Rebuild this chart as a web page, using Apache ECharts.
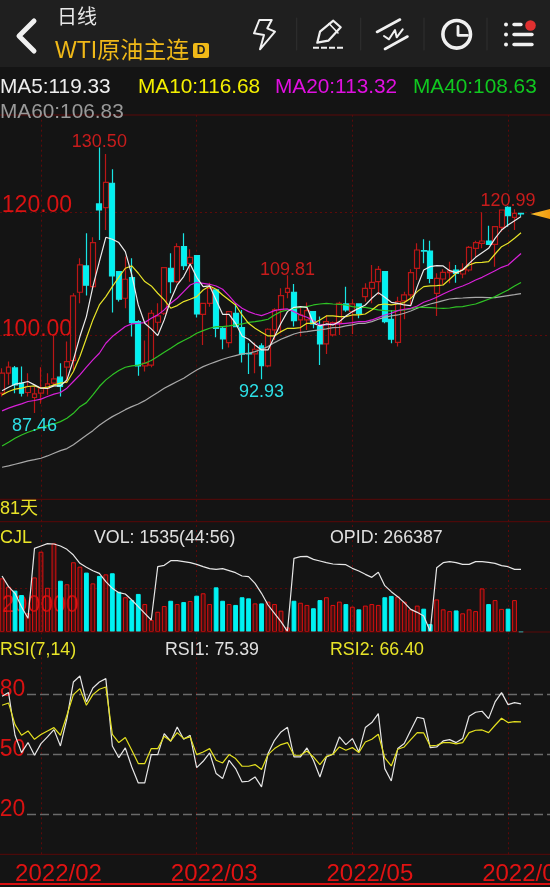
<!DOCTYPE html>
<html><head><meta charset="utf-8">
<style>html,body{margin:0;padding:0;background:#141414;}#c{width:550px;height:887px;}</style>
<script src="https://cdn.jsdelivr.net/npm/echarts@6/dist/echarts.min.js"></script>
</head><body><div id="c"></div>
<script>
// WTI continuous contract, daily bars (81 sessions) with moving averages, volume, open interest and RSI.
const opens=[90.68,93.92,94.78,92.3,90.79,89.98,90.68,91.49,92.3,93.27,94.89,95.97,107.04,111.31,107.96,121.35,120.76,124.7,110.39,106.07,109.42,102.29,95.11,95.22,102.18,103.64,110.93,108.77,114.43,111.73,112.97,103.47,105.25,107.41,101.2,98.88,103.63,101.31,97.15,97.04,98.34,95.1,100.93,104.17,107.03,107.03,102.55,102.55,103.9,101.47,98.66,100.12,102.12,105.14,103.9,105.14,106.33,107.68,108.76,110.38,102.66,98.93,105.63,106.6,110.92,113.78,113.73,106.87,109.19,110.22,110.65,110.0,110.65,114.16,114.97,115.35,114.81,117.56,120.8,119.18,119.83];
const highs=[94.73,95.81,95.1,95.0,93.92,91.76,94.89,93.92,100.13,95.54,99.05,106.88,112.55,116.6,115.95,130.5,129.45,126.97,110.39,112.82,112.55,102.56,99.21,104.18,105.26,111.04,113.36,114.98,116.59,114.0,112.97,105.25,108.6,107.41,101.58,103.9,105.25,104.17,98.77,98.88,98.77,101.2,104.44,107.68,109.81,108.38,104.71,105.36,103.9,103.09,103.36,102.28,105.52,107.95,105.9,105.14,108.49,111.46,111.3,110.38,104.17,106.33,107.14,110.76,114.97,115.62,115.4,110.11,110.76,112.0,111.46,111.73,114.54,115.4,120.0,117.83,117.67,120.37,120.99,120.48,119.94];
const lows=[90.14,92.03,90.68,90.14,90.14,87.46,88.95,90.41,91.76,90.14,92.3,94.46,105.26,106.5,107.69,115.52,117.14,103.75,105.53,104.45,99.86,93.49,94.19,94.89,100.67,103.37,106.88,108.5,110.65,108.76,102.93,98.5,104.71,99.74,97.8,98.07,101.36,95.64,93.8,93.91,92.93,94.88,99.31,100.39,106.06,101.47,99.85,100.93,101.2,95.26,97.04,99.85,100.12,103.9,100.28,102.82,105.52,105.25,106.6,102.01,98.77,98.23,102.66,104.98,109.03,111.73,108.49,103.2,108.22,108.49,108.6,109.3,110.38,112.81,114.16,114.7,111.19,116.86,117.67,117.13,119.4];
const closes=[93.92,94.89,92.03,90.68,91.76,90.57,91.49,92.19,93.0,91.76,95.81,106.45,111.47,108.18,115.09,120.38,124.86,109.69,105.91,109.15,102.13,95.11,95.54,103.64,103.21,111.04,108.77,114.44,111.35,112.7,103.52,105.25,107.68,101.2,99.47,103.9,101.47,97.0,97.04,97.8,95.15,101.04,104.17,106.49,107.68,102.44,103.36,104.06,101.9,98.66,102.28,102.12,105.25,104.17,105.14,103.63,107.68,108.65,110.76,102.28,99.42,105.52,106.6,110.22,113.89,113.72,109.3,109.3,110.27,110.49,110.11,110.76,114.32,115.08,115.35,114.81,117.67,120.37,119.45,119.83,119.72];

const ma5=[91.06,91.65,92.14,92.3,92.57,92.03,91.49,91.44,91.87,91.87,92.84,96.08,99.86,103.1,107.96,112.01,115.95,115.63,115.09,113.63,109.85,104.99,102.02,101.1,100.02,102.56,105.8,108.23,109.58,111.62,109.46,107.95,108.06,105.79,103.47,103.47,102.01,99.96,99.42,98.5,97.69,97.69,99.85,102.01,103.9,104.6,104.71,104.6,102.01,101.58,101.9,101.74,102.28,103.2,103.9,104.44,104.98,106.06,106.98,106.22,105.41,105.25,104.98,104.87,107.95,110.65,111.19,111.35,111.3,110.54,110.22,110.65,111.73,112.7,113.46,114.16,115.78,117.13,117.94,118.64,119.33];
const ma10=[90.41,90.95,91.33,91.49,91.76,91.87,91.49,91.65,92.03,92.3,92.46,94.19,96.62,99.59,102.56,104.99,106.34,107.96,109.47,110.93,111.31,110.12,108.77,108.07,106.88,105.8,104.45,104.88,105.53,105.9,106.33,107.41,108.06,107.52,106.6,105.79,104.98,103.36,102.01,101.2,100.55,99.96,99.96,100.66,101.2,101.2,101.31,102.01,102.01,102.55,103.2,103.2,103.09,103.09,103.36,103.36,103.52,104.17,104.98,105.14,104.98,105.14,105.36,106.06,107.14,107.95,108.06,108.11,108.22,109.14,110.11,110.65,111.46,111.84,111.89,112.0,113.24,114.43,114.97,115.78,116.68];
const ma20=[87.82,88.25,88.63,88.95,89.33,89.49,89.71,90.14,90.52,90.79,91.49,92.57,93.65,94.89,96.08,97.16,98.78,99.86,100.67,101.48,101.91,102.02,102.13,102.83,103.37,104.18,105.26,106.07,107.15,108.22,108.65,108.49,108.33,108.06,107.52,106.44,105.25,104.44,103.9,103.52,103.25,103.63,104.06,104.28,104.33,103.9,103.36,102.98,102.44,101.74,101.74,101.9,101.9,102.01,102.12,102.28,102.28,102.55,102.93,103.36,103.63,104.06,104.28,104.44,104.82,105.41,105.79,106.22,106.76,107.25,107.68,108.06,108.49,109.03,109.46,110.0,110.54,111.08,111.46,112.38,113.32];
const ma40=[82.13,82.72,83.37,83.91,84.34,84.72,85.1,85.42,85.69,86.07,86.61,87.42,88.5,89.15,90.41,91.76,92.84,93.65,94.35,94.89,95.11,95.22,95.54,95.97,96.62,97.32,97.97,98.67,99.21,99.74,100.39,100.82,101.2,101.47,101.47,101.58,101.74,101.9,102.17,102.28,102.44,102.66,103.36,103.9,104.17,104.44,104.6,104.71,104.98,105.14,105.25,105.14,105.09,104.98,104.71,104.6,104.6,104.39,104.17,104.06,104.01,104.06,104.17,104.33,104.6,104.6,104.55,104.49,104.44,104.49,104.66,104.71,104.93,105.14,105.52,105.9,106.33,106.87,107.41,108.06,108.63];
const ma60=[78.67,78.89,79.16,79.43,79.7,79.91,80.13,80.51,80.94,81.37,81.7,82.34,83.1,83.86,84.61,85.48,86.23,86.88,87.42,88.01,88.5,88.93,89.47,90.14,90.79,91.49,92.03,92.57,93.11,93.8,94.45,94.99,95.42,95.8,96.18,96.5,96.77,97.04,97.15,97.42,97.8,98.23,98.88,99.42,99.85,100.28,100.55,100.66,100.82,100.93,101.09,101.31,101.36,101.58,101.74,102.01,102.01,102.28,102.66,102.98,103.2,103.36,103.63,104.01,104.44,104.82,105.14,105.41,105.68,105.95,106.06,106.11,106.17,106.22,106.22,106.17,106.17,106.33,106.49,106.65,106.83];

const volumes=[244000,206000,188000,168000,85000,248000,365000,201000,403000,233000,217000,317000,297000,270000,221000,255000,262000,267000,183000,158000,145000,173000,127000,55000,92000,118000,142000,127000,136000,141000,165000,176000,127000,203000,142000,127000,123000,158000,153000,130000,130000,138000,127000,97000,21000,142000,133000,123000,108000,145000,158000,123000,138000,127000,115000,103000,120000,127000,123000,158000,164000,161000,138000,103000,120000,106000,36000,148000,103000,95000,98000,85000,103000,95000,198000,127000,145000,105000,106000,145000,1535];
const openInterest=[237900,192600,164300,107600,58100,355400,365300,375200,373800,365300,351200,327100,291700,274700,260500,249200,213800,185500,167100,161400,135900,107600,79300,51000,277500,283200,303000,303000,298800,294500,287400,277500,269000,266200,269000,260500,252000,237900,235100,206700,164300,114700,79300,43900,3000,312900,320000,321400,308700,301600,294500,288900,287400,286000,270500,259100,245000,232200,253500,196800,171300,150100,124600,96300,83500,68000,3000,273300,294500,298800,294500,287400,287400,298800,298800,296000,291700,281800,277500,266200,266387];

const rsi1=[79.17,81.0,59.67,51.0,56.0,49.67,55.5,58.83,62.5,54.33,68.0,86.33,89.33,76.33,83.33,86.33,88.0,54.33,48.5,53.33,43.83,35.83,35.83,50.0,50.0,60.5,56.67,63.83,57.67,59.67,43.5,46.67,50.83,40.5,38.0,47.17,43.0,36.33,36.67,38.83,33.83,50.5,57.17,61.33,63.67,48.83,48.83,53.33,47.17,38.83,48.83,50.17,58.83,55.0,58.0,51.33,63.5,66.0,70.5,43.0,36.83,53.0,55.5,62.17,68.67,68.0,53.5,53.83,56.83,57.5,56.0,58.0,69.17,71.17,71.67,68.0,76.33,81.0,75.0,76.0,75.39];
const rsi2=[74.67,75.83,65.0,59.67,61.83,57.67,60.0,61.83,63.5,59.67,69.67,80.0,83.0,74.67,80.0,82.67,83.83,60.17,56.0,58.5,52.17,45.5,45.5,53.0,53.0,59.17,56.83,61.0,58.0,58.83,50.0,51.33,53.0,47.17,45.83,50.0,48.0,44.17,44.17,45.0,42.5,50.0,53.0,55.0,56.0,49.67,49.67,51.83,48.83,45.0,49.17,50.17,53.83,52.17,53.5,51.0,56.33,57.67,60.17,48.33,44.33,52.67,53.83,57.5,61.0,60.83,54.33,54.67,56.0,56.0,55.33,56.0,61.0,62.17,62.33,61.0,64.67,68.17,66.0,66.5,66.4];

// Extreme prices annotated on the chart: [session index, price, direction].
const peaks=[[15,130.5,'top'],[44,109.81,'top'],[78,120.99,'top'],[5,87.46,'bottom'],[40,92.93,'bottom']];
const priceTicks=[100,120];
const volumeTicks=[200000];
const rsiTicks=[20,50,80];
const monthIndex=[6,30,54,78];
const monthLabels=['2022/02','2022/03','2022/05','2022/06'];
// Four spare slots to the right of the last session.
const slotCount=85;
const categories=Array.from({length:slotCount},(_,i)=>{const m=monthIndex.indexOf(i);return m>=0?monthLabels[m]:'d'+i;});

const FONT='"Liberation Sans","Noto Sans CJK SC",sans-serif';
const RED='#d81212',GRID='#5c0a0a',CYAN='#00f2f2';
const last=a=>a[a.length-1];

const monthFn=i=>monthIndex.indexOf(i)>=0;
const makeX=(gridIndex,showLabel)=>({
  type:'category',gridIndex,data:categories,boundaryGap:true,
  axisLine:{show:false},axisTick:{show:false},
  axisLabel:showLabel?{show:true,interval:monthFn,color:'#e01212',fontFamily:FONT,fontSize:24,margin:8,padding:[0,0,0,35],hideOverlap:false}:{show:false},
  splitLine:{show:false}
});
const makeY=(gridIndex,min,max,ticks,label)=>({
  type:'value',gridIndex,min,max,scale:true,
  axisLine:{show:false},
  axisTick:{show:false,customValues:ticks},
  axisLabel:Object.assign({show:true,inside:true,margin:3,customValues:ticks,color:RED,fontFamily:FONT,fontSize:23,showMinLabel:true,showMaxLabel:true},label),
  splitLine:{show:false}
});
const dotted=[2,3];
// Reference lines: dotted month verticals plus horizontal levels running across the panel.
const panelLines=(levels,color,type,fromX,width)=>({
  symbol:'none',silent:true,animation:false,z:1,label:{show:false},
  data:[
    ...monthIndex.map(i=>({xAxis:i,lineStyle:{color:GRID,type:dotted,width:1}})),
    ...levels.map(v=>[{x:fromX,yAxis:v,lineStyle:{color,type,width}},{x:550,yAxis:v}])
  ]
});

const maLine=(name,data,color)=>({name,type:'line',xAxisIndex:0,yAxisIndex:0,data,symbol:'none',clip:false,lineStyle:{color,width:1.2},z:4,silent:true});

const gridX={left:-1.19,width:551.4,outerBoundsMode:'none'};
const option={
  animation:false,backgroundColor:'#141414',
  grid:[
    {...gridX,top:115,height:406.7},
    {...gridX,top:521.7,height:110.3},
    {...gridX,top:632,height:222.3}
  ],
  xAxis:[makeX(0,false),makeX(1,false),makeX(2,true)],
  yAxis:[
    makeY(0,69.85,135.77,priceTicks,{formatter:v=>v.toFixed(2),verticalAlign:'bottom',lineHeight:13}),
    makeY(1,0,501300,volumeTicks,{formatter:v=>String(v),verticalAlign:'top',padding:[6,0,0,0]}),
    Object.assign(makeY(1,0,468600,[],{show:false}),{show:false}),
    makeY(2,0.15,111.3,rsiTicks,{formatter:v=>String(v),verticalAlign:'bottom',lineHeight:10,margin:1})
  ],
  series:[
    {type:'candlestick',name:'K',xAxisIndex:0,yAxisIndex:0,clip:false,barWidth:5.4,z:3,
      data:opens.map((o,i)=>[o,closes[i],lows[i],highs[i]]),
      itemStyle:{color:'rgba(20,20,20,0)',color0:CYAN,borderColor:'#bb1616',borderColor0:'#18e4e4',borderWidth:1.2},
      markLine:panelLines(priceTicks,GRID,dotted,0,1),
      markPoint:{symbol:'circle',symbolSize:0,silent:true,animation:false,
        data:peaks.map(([i,v,pos])=>({coord:[i,v],value:v,
          label:{show:true,position:pos,distance:pos==='top'?-4:4,formatter:v.toFixed(2),fontFamily:FONT,fontSize:18,color:pos==='top'?'#c81c1c':'#2ddfe6'}}))}
    },
    maLine('MA60',ma60,'#a8a8a8'),
    maLine('MA40',ma40,'#2fc425'),
    maLine('MA20',ma20,'#d820d8'),
    maLine('MA10',ma10,'#e8e428'),
    maLine('MA5',ma5,'#ececec'),
    {type:'bar',name:'VOL',xAxisIndex:1,yAxisIndex:1,barWidth:4.8,z:3,
      data:volumes.map((v,i)=>({value:v,itemStyle:closes[i]>=opens[i]?
        {color:'rgba(130,12,12,0.4)',borderColor:'#e01010',borderWidth:1}:
        {color:CYAN,borderColor:CYAN,borderWidth:1}})),
      markLine:panelLines(volumeTicks,GRID,dotted,0,1)},
    {type:'line',name:'OPID',xAxisIndex:1,yAxisIndex:2,data:openInterest,symbol:'none',clip:false,lineStyle:{color:'#e6e6e6',width:1.2},z:4,silent:true},
    {type:'line',name:'RSI1',xAxisIndex:2,yAxisIndex:3,data:rsi1,symbol:'none',clip:false,lineStyle:{color:'#e6e6e6',width:1.2},z:4,silent:true,
      markLine:panelLines(rsiTicks,'#6a6a6a',[9,4],27,1.3)},
    {type:'line',name:'RSI2',xAxisIndex:2,yAxisIndex:3,data:rsi2,symbol:'none',clip:false,lineStyle:{color:'#e4e020',width:1.2},z:5,silent:true}
  ]
};

const chart=echarts.init(document.getElementById('c'),null,{renderer:'canvas'});
chart.setOption(option);

// Header bar, readouts, panel frames.
const WHITE='#e8e8e8',GOLD='#f0b918';
const txt=(x,y,text,fill,size,extra)=>({type:'text',x,y,z:20,silent:true,style:Object.assign({text,fill,fontFamily:FONT,fontSize:size,verticalAlign:'middle',align:'left'},extra)});
const seg=(x1,y1,x2,y2,stroke,w,extra)=>({type:'line',z:20,silent:true,shape:{x1,y1,x2,y2},style:Object.assign({stroke,lineWidth:w,lineCap:'round'},extra)});
const poly=(pts,stroke,w)=>({type:'polyline',z:20,silent:true,shape:{points:pts},style:{stroke,lineWidth:w,fill:null,lineJoin:'round',lineCap:'round'}});
const loop=(pts,stroke,w)=>({type:'polygon',z:20,silent:true,shape:{points:pts},style:{stroke,lineWidth:w,fill:null,lineJoin:'round'}});
const closeY=chart.convertToPixel({yAxisIndex:0},last(closes));
const frames=[115,499.3,521.7,632,854.3].map(y=>seg(0,y,550,y,'#5a0808',1,{lineCap:'butt'}));
const graphic=[
  {type:'rect',z:10,silent:true,shape:{x:0,y:0,width:550,height:67},style:{fill:'#1f1f1f'}},
  ...frames,
  seg(0,884,550,884,'#d81010',2,{lineCap:'butt'}),
  poly([[34,21],[19,36],[34,51]],'#f0f0f0',5),
  txt(57,18,'日线',WHITE,20),
  txt(55,52,'WTI原油主连',GOLD,23),
  {type:'rect',z:20,silent:true,shape:{x:193,y:43,width:16,height:15,r:2},style:{fill:GOLD}},
  txt(201,50.5,'D','#1f1f1f',12,{align:'center',fontWeight:'bold'}),
  loop([[259.3,20],[271.7,20],[267.3,28.3],[275,31.7],[260,49.3],[264,35],[254,33.3]],'#f0f0f0',2),
  seg(296.7,18,296.7,50,'#303030',1),seg(360.7,18,360.7,50,'#303030',1),seg(424,18,424,50,'#303030',1),seg(487,18,487,50,'#303030',1),
  loop([[317.3,42.7],[320,31.7],[333.3,20.7],[340.7,27.3],[328.3,40.7]],'#f0f0f0',2.2),
  seg(329,23.5,338,33,'#f0f0f0',1.6),
  seg(313,47.7,344,47.7,'#f0f0f0',2,{lineDash:[6,2],lineCap:'butt'}),
  seg(377,32,400,19.5,'#f0f0f0',2.6),seg(385,49,407.5,36.5,'#f0f0f0',2.6),
  poly([[384,36],[389,39.3],[395,30],[396.7,37.3],[402.7,29.3]],'#f0f0f0',2),
  {type:'circle',z:20,silent:true,shape:{cx:456.7,cy:34.3,r:13.8},style:{stroke:'#f0f0f0',lineWidth:3.6,fill:null}},
  poly([[458,26.5],[458,35.3],[467.5,35.3]],'#f0f0f0',2.8),
  {type:'circle',z:20,silent:true,shape:{cx:506,cy:24.5,r:2},style:{fill:'#f0f0f0'}},
  {type:'circle',z:20,silent:true,shape:{cx:506,cy:34.5,r:2},style:{fill:'#f0f0f0'}},
  {type:'circle',z:20,silent:true,shape:{cx:506,cy:44.5,r:2},style:{fill:'#f0f0f0'}},
  seg(514,24.5,521,24.5,'#f0f0f0',3.4),seg(514,34.5,532,34.5,'#f0f0f0',3.4),seg(514,44.5,532,44.5,'#f0f0f0',3.4),
  {type:'circle',z:21,silent:true,shape:{cx:530.5,cy:25.5,r:5.3},style:{fill:'#e03030'}},

  txt(0,87.5,'MA5:'+last(ma5).toFixed(2),'#eeeeee',20.8),
  txt(138,87.5,'MA10:'+last(ma10).toFixed(2),'#f4f000',20.8),
  txt(275,87.5,'MA20:'+last(ma20).toFixed(2),'#e010e0',20.8),
  txt(413,87.5,'MA40:'+last(ma40).toFixed(2),'#10c820',20.8),
  txt(0,112,'MA60:'+last(ma60).toFixed(2),'#9a9a9a',20.8),

  txt(0,509,'81天','#e8e428',18),
  txt(0,538.5,'CJL','#e8e428',18),
  txt(94,538.5,'VOL: '+last(volumes)+'(44:56)','#e0e0e0',17.8),
  txt(330,538.5,'OPID: '+last(openInterest),'#e0e0e0',17.8),
  txt(0,650,'RSI(7,14)','#e8e428',17.8),
  txt(165,650,'RSI1: '+last(rsi1).toFixed(2),'#e0e0e0',17.8),
  txt(330,650,'RSI2: '+last(rsi2).toFixed(2),'#e8e428',17.8),
  {type:'polygon',z:20,silent:true,shape:{points:[[530.5,closeY],[550,closeY-5],[550,closeY+5]]},
    style:{fill:{type:'linear',x:0,y:0,x2:1,y2:0,colorStops:[{offset:0,color:'#f8c030'},{offset:1,color:'#f09a10'}]}}}
];
chart.setOption({graphic});
</script>
</body></html>
